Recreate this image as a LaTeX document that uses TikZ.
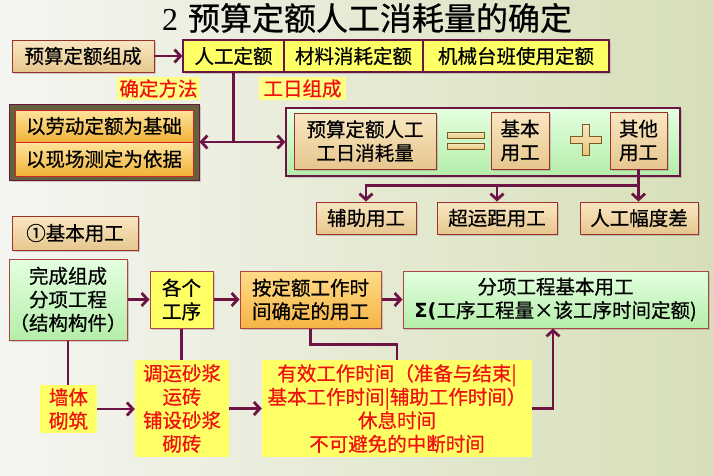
\documentclass[tikz,border=0pt]{standalone}
\usepackage{fontspec}
\setmainfont{Noto Sans CJK SC}[FakeBold=0.6]
\newfontfamily\serifnum{Liberation Serif}
\newfontfamily\dvs{DejaVu Sans}
\usetikzlibrary{arrows.meta,shadows,calc}
\definecolor{bgL}{HTML}{F5F5F1}
\definecolor{bgR}{HTML}{D6DFB8}
\definecolor{plum}{HTML}{6E1444}
\definecolor{tanT}{HTML}{F9E7C2}
\definecolor{tanB}{HTML}{E6C68E}
\definecolor{tanD}{HTML}{A0302C}
\definecolor{yel}{HTML}{FFFF66}
\definecolor{labY}{HTML}{FFFF88}
\definecolor{orT}{HTML}{FFE49C}
\definecolor{orB}{HTML}{F0B238}
\definecolor{orD}{HTML}{D02828}
\definecolor{olive}{HTML}{65613A}
\definecolor{grT}{HTML}{E4FFE0}
\definecolor{grB}{HTML}{B4EEAA}
\definecolor{grD}{HTML}{B04444}
\definecolor{apT}{HTML}{FFDC88}
\definecolor{apB}{HTML}{F6B445}
\definecolor{redtxt}{HTML}{F01010}
\definecolor{symF}{HTML}{E8C77E}
\definecolor{symD}{HTML}{7E5A22}
\begin{document}
\begin{tikzpicture}[x=1pt,y=-1pt,
  base/.style={font=\fontsize{19.5}{23.5}\selectfont, align=center, inner sep=0pt, text=black},
  shad/.style={drop shadow={shadow xshift=1.5pt,shadow yshift=-1.5pt,opacity=0.35}},
  tanbox/.style={base, shad, draw=tanD, line width=0.9pt, top color=tanT, bottom color=tanB},
  ylbox/.style={base, shad, draw=plum, line width=1.2pt, fill=yel},
  orbox/.style={base, draw=orD, line width=1pt, top color=orT, bottom color=orB},
  grbox/.style={base, shad, draw=grD, line width=1pt, top color=grT, bottom color=grB},
  apbox/.style={base, shad, draw=grD, line width=1pt, top color=apT, bottom color=apB},
  redlab/.style={base, fill=labY, text=redtxt},
  redbox/.style={base, fill=yel, text=redtxt},
  conn/.style={draw=plum, line width=2.8pt},
  arr/.style={conn, -{Straight Barb[length=6pt,width=13pt]}},
  sym/.style={draw=symD, line width=0.8pt, top color=tanT, bottom color=symF}
]
\useasboundingbox (0,0) rectangle (713,475);
\shade[left color=bgL, right color=bgR] (0,0) rectangle (713,475);

% title
\node[font=\fontsize{32}{36}\selectfont, inner sep=0pt] (title) at (367,18) {{\serifnum 2}\hspace{10pt}预算定额人工消耗量的确定};

% top row
\node[tanbox, minimum width=142pt, minimum height=32pt] (zc) at (83,56) {预算定额组成};
\node[ylbox, minimum width=101pt, minimum height=32pt] (rg) at (233.5,56) {人工定额};
\node[ylbox, minimum width=139pt, minimum height=32pt] (cl) at (353.5,56) {材料消耗定额};
\node[ylbox, minimum width=186pt, minimum height=32pt] (jx) at (516,56) {机械台班使用定额};

\node[redlab, minimum width=83pt, minimum height=23pt] (lab1) at (158.5,88.5) {确定方法};
\node[redlab, minimum width=87pt, minimum height=23pt] (lab2) at (302.5,88.5) {工日组成};

% left frame
\node[base, shad, draw=plum, line width=1pt, fill=olive, minimum width=190pt, minimum height=76pt] (lf) at (104,142) {};
\node[orbox, minimum width=178pt, minimum height=32pt] (ld1) at (104,126) {以劳动定额为基础};
\node[orbox, minimum width=178pt, minimum height=34pt] (ld2) at (104,159) {以现场测定为依据};

% right green frame
\node[base, shad, draw=plum, line width=1.2pt, top color=grT, bottom color=grB, minimum width=394pt, minimum height=68pt] (bgx) at (483,142) {};
\node[tanbox, minimum width=142pt, minimum height=56pt] (ys) at (365,141) {预算定额人工\\工日消耗量};
\node[tanbox, minimum width=58pt, minimum height=57pt] (jb) at (520,140.5) {基本\\用工};
\node[tanbox, minimum width=57pt, minimum height=57pt] (qt) at (638.5,140.5) {其他\\用工};
\draw[sym] (447,132) rectangle (484,138);
\draw[sym] (447,143) rectangle (484,149);
\draw[sym] (582,124) -- (589,124) -- (589,136) -- (601,136) -- (601,143) -- (589,143) -- (589,155) -- (582,155) -- (582,143) -- (570,143) -- (570,136) -- (582,136) -- cycle;

\node[tanbox, minimum width=100pt, minimum height=32pt] (fz) at (366,218) {辅助用工};
\node[tanbox, minimum width=120pt, minimum height=32pt] (cy) at (497,218) {超运距用工};
\node[tanbox, minimum width=118pt, minimum height=32pt] (rf) at (639,218) {人工幅度差};

% lower part
\node[tanbox, minimum width=126pt, minimum height=34pt] (jbyg) at (75,233) {①基本用工};
\node[grbox, minimum width=118pt, minimum height=81pt] (wc) at (68,299.5) {完成组成\\分项工程\\（结构构件）};
\node[base, shad, draw=grD, line width=1pt, fill=yel, minimum width=63pt, minimum height=57pt] (gx) at (181.5,299.5) {各个\\工序};
\node[apbox, minimum width=141pt, minimum height=57pt] (ad) at (310.5,299.5) {按定额工作时\\间确定的用工};
\node[grbox, minimum width=305pt, minimum height=57pt] (fx) at (555.5,299.5) {分项工程基本用工\\{\dvs\bfseries Σ(}工序工程量×该工序时间定额)};

\node[redbox, minimum width=57pt, minimum height=48pt] (qt2) at (68.5,409) {墙体\\砌筑};
\node[redbox, minimum width=94pt, minimum height=97pt] (dy) at (182,408.5) {调运砂浆\\运砖\\铺设砂浆\\砌砖};
\node[redbox, minimum width=270pt, minimum height=97pt] (yx) at (397,408.5) {有效工作时间（准备与结束|\\基本工作时间|辅助工作时间）\\休息时间\\不可避免的中断时间};

% connectors
\draw[arr] (zc.east) -- (rg.west);
\coordinate (j1) at (rg.south |- lf.east);
\draw[conn] (rg.south) -- (j1);
\draw[arr] (j1) -- (lf.east);
\draw[arr] (j1) -- (bgx.west);

\coordinate (j2) at ($(qt.south)+(0,16)$);
\draw[conn] (qt.south) -- (j2);
\draw[arr] (j2) -- (j2 |- rf.north);
\draw[arr] (j2) -| (fz.north);
\draw[arr] (j2 -| cy.north) -- (cy.north);

\draw[arr] (wc.east) -- (gx.west);
\draw[arr] (gx.east) -- (ad.west);
\draw[arr] (ad.east) -- (fx.west);

\draw[conn] (wc.south) -- (wc.south |- qt2.north);
\draw[conn] (gx.south) -- (gx.south |- dy.north);
\draw[conn] (ad.south) -- ++(0,16) -| (yx.north);
\draw[arr] (qt2.east) -- (qt2.east -| dy.west);
\draw[arr] (dy.east) -- (yx.west);
\draw[arr] (yx.east) -| ($(fx.south)+(-2.5,0)$);
\end{tikzpicture}
\end{document}
